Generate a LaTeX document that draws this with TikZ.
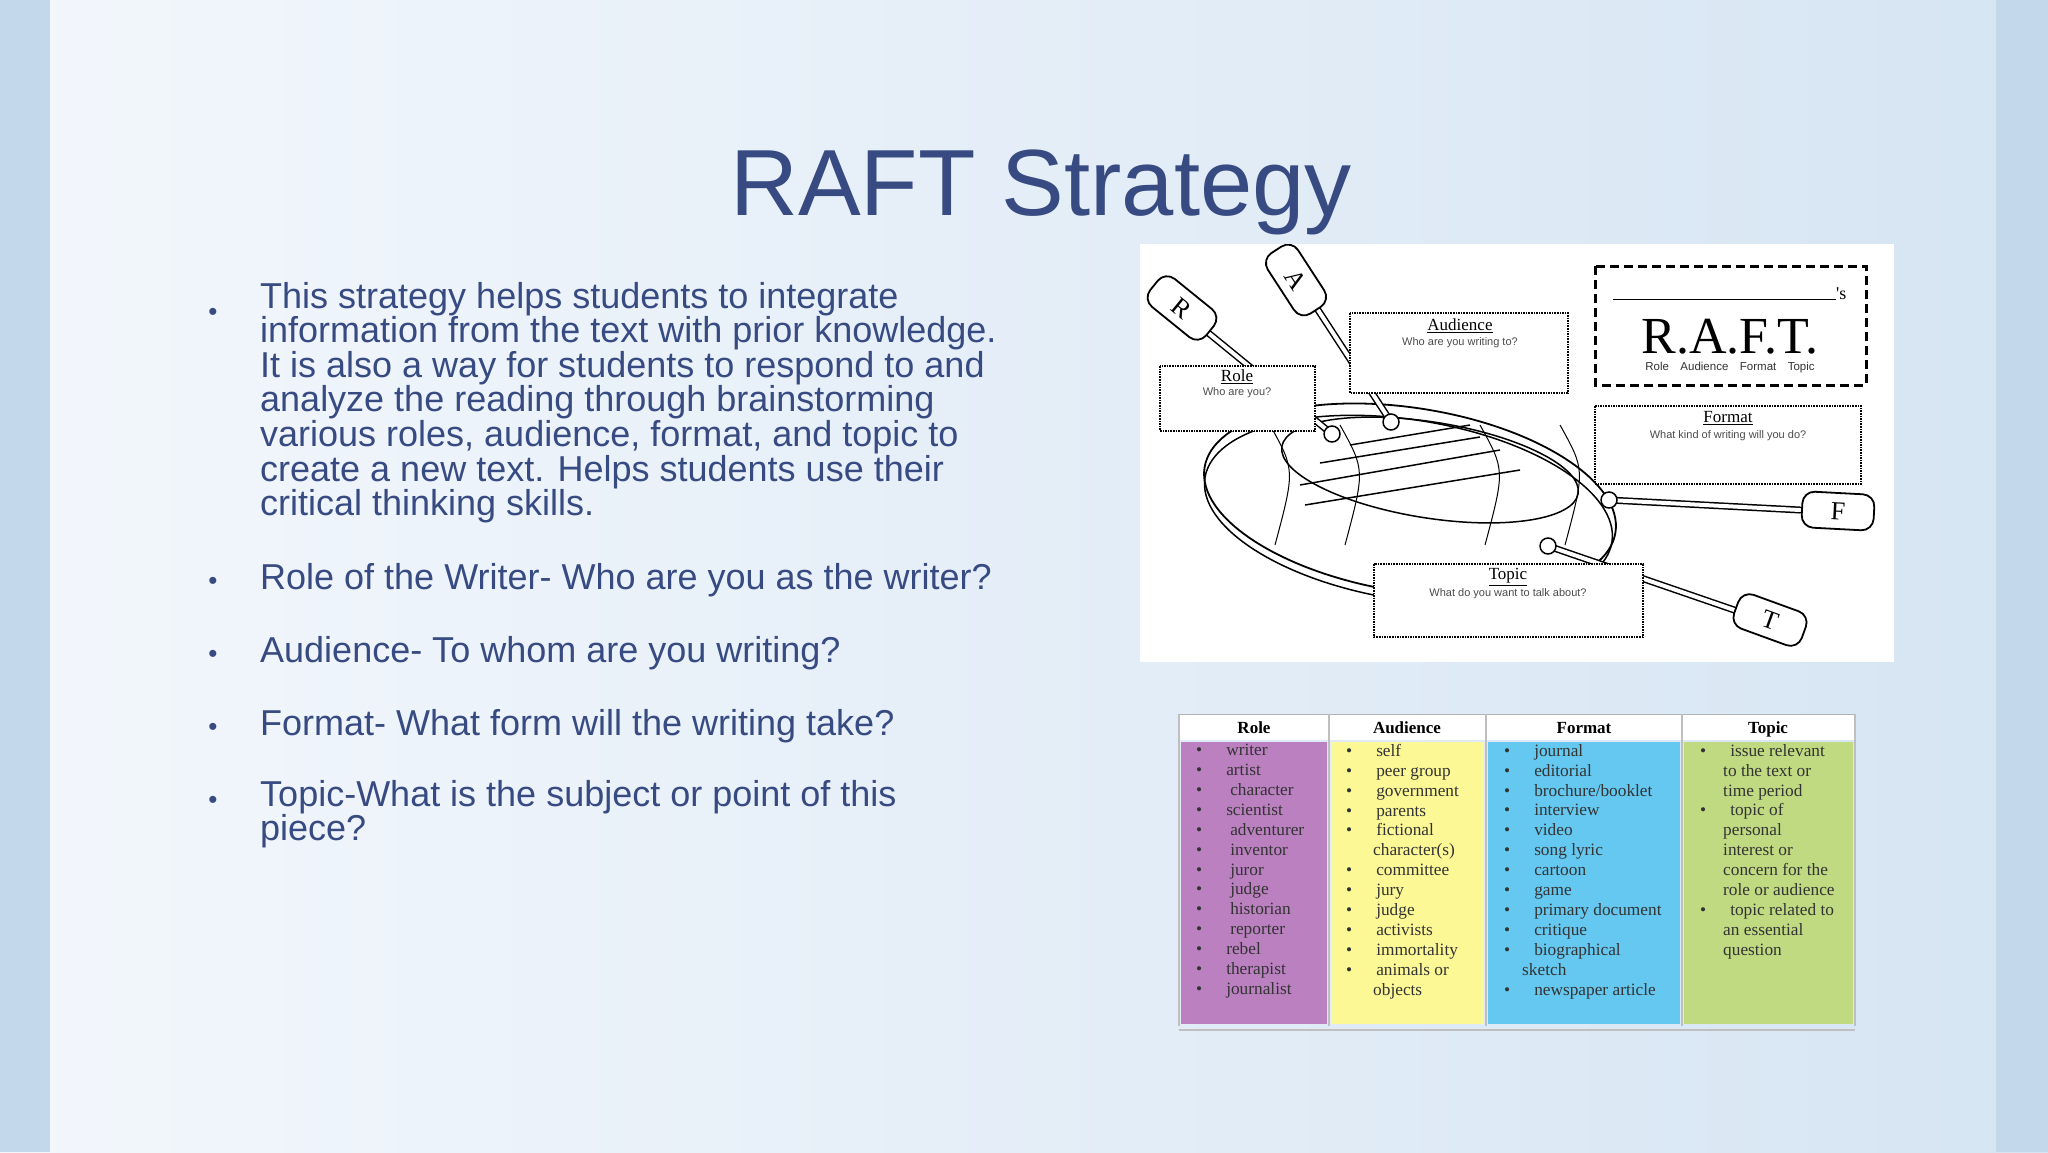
\documentclass[tikz,border=0pt]{standalone}
\usepackage{fontspec}
\setmainfont{Liberation Sans}
\newfontfamily\tabfont{Liberation Serif}
\usetikzlibrary{shapes.geometric}
\definecolor{titleblue}{RGB}{55,75,130}
\definecolor{bgA}{RGB}{243,247,252}
\definecolor{bgB}{RGB}{214,229,243}
\definecolor{edge}{RGB}{196,216,236}
\definecolor{cRole}{RGB}{186,128,192}
\definecolor{cAud}{RGB}{252,248,150}
\definecolor{cFmt}{RGB}{100,200,240}
\definecolor{cTop}{RGB}{192,218,130}
\tikzset{
  bul/.style={anchor=base west,font=\fontsize{36}{32.6}\selectfont,text=titleblue,inner sep=0pt,align=left},
  dot/.style={anchor=base,font=\fontsize{26}{26}\selectfont,text=titleblue,inner sep=0pt},
  dbox/.style={draw,densely dotted,line width=1.6pt},
  boxt/.style={font=\tabfont\fontsize{17}{17}\selectfont,inner sep=0pt},
  boxs/.style={font=\fontsize{11}{11}\selectfont,text=black!70,inner sep=0pt},
  blade/.style={draw,line width=1.8pt,fill=white,rounded corners=12pt,minimum width=72pt,minimum height=36pt,font=\tabfont\fontsize{26}{26}\selectfont},
  shaft/.style={line width=7pt,draw=black,line cap=round},
  shaftw/.style={line width=4pt,draw=white,line cap=round},
  tcell/.style={anchor=north west,inner sep=0pt,font=\tabfont\fontsize{17.3}{19.9}\selectfont,align=left,text=black!80},
  thead/.style={anchor=base,font=\tabfont\bfseries\fontsize{17}{17}\selectfont,inner sep=0pt}
}
\begin{document}
\begin{tikzpicture}[x=1pt,y=-1pt]
\useasboundingbox (0,0) rectangle (2048,1152);
\shade[left color=bgA,right color=bgB] (0,0) rectangle (2048,1152);
\fill[edge] (0,0) rectangle (50,1152);
\fill[edge] (1996,0) rectangle (2048,1152);
% title
\node[anchor=base,font=\fontsize{94}{94}\selectfont,text=titleblue,inner sep=0pt] (title) at (1041,215) {RAFT Strategy};
% bullets
\node[dot] (d1) at (213,320) {•};
\node[bul] (p1) at (260,515.6) {This strategy helps students to integrate\\information from the text with prior knowledge.\\It is also a way for students to respond to and\\analyze the reading through brainstorming\\various roles, audience, format, and topic to\\create a new text. Helps students use their\\critical thinking skills.};
\node[dot] (d2) at (213,589) {•};
\node[bul] (p2) at (260,589) {Role of the Writer- Who are you as the writer?};
\node[dot] (d3) at (213,662) {•};
\node[bul] (p3) at (260,662) {Audience- To whom are you writing?};
\node[dot] (d4) at (213,735) {•};
\node[bul] (p4) at (260,735) {Format- What form will the writing take?};
\node[dot] (d5) at (213,808) {•};
\node[bul] (p5) at (260,840.6) {Topic-What is the subject or point of this\\piece?};
% raft picture
\fill[white] (1140,244) rectangle (1894,662);
\begin{scope}
\clip (1140,244) rectangle (1894,662);
% raft body
\draw[line width=1.8pt,rotate around={-9:(1410,500)}] (1410,500) ellipse (208 and 92);
\draw[line width=1.5pt,rotate around={-9:(1410,500)}] (1410,510) ellipse (206 and 90);
\draw[line width=1.5pt,rotate around={-9:(1430,470)}] (1430,470) ellipse (150 and 48);
\foreach \a/\b in {{1305,505}/{1520,470},{1300,485}/{1500,450},{1320,463}/{1480,437},{1350,445}/{1470,425}}
  \draw[line width=1.5pt] (\a) -- (\b);
\foreach \xx in {1270,1340,1480,1560}
  \draw[line width=1pt] (\xx,425) .. controls (\xx+25,470) .. (\xx+5,545);
% paddles
\coordinate (rh) at (1332,434); \coordinate (rb) at (1190,318);
\draw[shaft] (rh) -- (rb); \draw[shaftw] (rh) -- (rb);
\node[blade,rotate=-39] (bR) at (1182,308) {R};
\coordinate (ah) at (1391,422); \coordinate (ab) at (1305,290);
\draw[shaft] (ah) -- (ab); \draw[shaftw] (ah) -- (ab);
\node[blade,rotate=-57] (bA) at (1296,280) {A};
\coordinate (fh) at (1609,500); \coordinate (fb) at (1800,510);
\draw[shaft] (fh) -- (fb); \draw[shaftw] (fh) -- (fb);
\node[blade,rotate=-3] (bF) at (1838,511) {F};
\coordinate (th) at (1548,546); \coordinate (tb) at (1740,612);
\draw[shaft] (th) -- (tb); \draw[shaftw] (th) -- (tb);
\node[blade,rotate=-20] (bT) at (1770,620) {T};
\foreach \p in {rh,ah,fh,th} \draw[line width=1.5pt,fill=white] (\p) circle (8);
% boxes
\draw[dbox,fill=white] (1160,366) rectangle (1315,431);
\node[boxt] (tRole) at (1237,377) {\underline{Role}};
\node[boxs] (sRole) at (1237,393) {Who are you?};
\draw[dbox,fill=white] (1350,313) rectangle (1568,393);
\node[boxt] (tAud) at (1460,326) {\underline{Audience}};
\node[boxs] (sAud) at (1460,343) {Who are you writing to?};
\draw[dbox,fill=white] (1595,406) rectangle (1861,484);
\node[boxt] (tFmt) at (1728,418) {\underline{Format}};
\node[boxs] (sFmt) at (1728,436) {What kind of writing will you do?};
\draw[dbox,fill=white] (1374,564) rectangle (1643,637);
\node[boxt] (tTop) at (1508,577) {\underline{Topic}};
\node[boxs] (sTop) at (1508,594) {What do you want to talk about?};
\draw[line width=3pt,dash pattern=on 9pt off 5pt] (1595,266) rectangle (1866,385);
\draw[line width=1pt] (1613,299) -- (1836,299);
\node[anchor=base west,font=\tabfont\fontsize{18}{18}\selectfont,inner sep=0pt] (s) at (1836,299) {'s};
\node[font=\tabfont\fontsize{52}{52}\selectfont,inner sep=0pt] (raft) at (1730,337) {R.A.F.T.};
\node[font=\fontsize{11.5}{11.5}\selectfont,inner sep=0pt,text=black!80] (sub) at (1730,368) {Role\quad Audience\quad Format\quad Topic};
\end{scope}
% table
\fill[white] (1179,714) rectangle (1855,740);
\draw[black!30,line width=1pt] (1179,714) -- (1855,714);
\fill[cRole] (1181,742) rectangle (1327,1024);
\fill[cAud] (1331,742) rectangle (1484,1024);
\fill[cFmt] (1488,742) rectangle (1680,1024);
\fill[cTop] (1684,742) rectangle (1853,1024);
\foreach \xx in {1179,1329,1486,1682,1855} \draw[black!25,line width=1.5pt] (\xx,714) -- (\xx,1026);
\draw[black!25,line width=2pt] (1179,1030) -- (1855,1030);
\node[thead] (hR) at (1254,733) {Role};
\node[thead] (hA) at (1407,733) {Audience};
\node[thead] (hF) at (1584,733) {Format};
\node[thead] (hT) at (1768,733) {Topic};
\node[tcell] (cR) at (1196,744) {•\hspace{24pt}writer\\•\hspace{24pt}artist\\•\hspace{28pt}character\\•\hspace{24pt}scientist\\•\hspace{28pt}adventurer\\•\hspace{28pt}inventor\\•\hspace{28pt}juror\\•\hspace{28pt}judge\\•\hspace{28pt}historian\\•\hspace{28pt}reporter\\•\hspace{24pt}rebel\\•\hspace{24pt}therapist\\•\hspace{24pt}journalist};
\node[tcell] (cA) at (1346,744) {•\hspace{24pt}self\\•\hspace{24pt}peer group\\•\hspace{24pt}government\\•\hspace{24pt}parents\\•\hspace{24pt}fictional\\\hspace{27pt}character(s)\\•\hspace{24pt}committee\\•\hspace{24pt}jury\\•\hspace{24pt}judge\\•\hspace{24pt}activists\\•\hspace{24pt}immortality\\•\hspace{24pt}animals or\\\hspace{27pt}objects};
\node[tcell] (cF) at (1504,744) {•\hspace{24pt}journal\\•\hspace{24pt}editorial\\•\hspace{24pt}brochure/booklet\\•\hspace{24pt}interview\\•\hspace{24pt}video\\•\hspace{24pt}song lyric\\•\hspace{24pt}cartoon\\•\hspace{24pt}game\\•\hspace{24pt}primary document\\•\hspace{24pt}critique\\•\hspace{24pt}biographical\\\hspace{18pt}sketch\\•\hspace{24pt}newspaper article};
\node[tcell] (cT) at (1700,744) {•\hspace{24pt}issue relevant\\\hspace{23pt}to the text or\\\hspace{23pt}time period\\•\hspace{24pt}topic of\\\hspace{23pt}personal\\\hspace{23pt}interest or\\\hspace{23pt}concern for the\\\hspace{23pt}role or audience\\•\hspace{24pt}topic related to\\\hspace{23pt}an essential\\\hspace{23pt}question};
\end{tikzpicture}
\end{document}
